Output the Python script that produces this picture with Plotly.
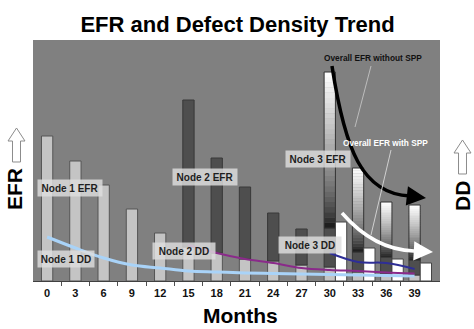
import plotly.graph_objects as go

# ---------------- data (arbitrary units) ----------------
months = [0, 3, 6, 9, 12, 15, 18, 21, 24, 27, 30, 33, 36, 39]
node1_efr = [145, 120, 96, 72, 48, 34, 28, 22, 20, 16, 14, 9, 7, 6]
node2_efr = [None, None, None, None, None, 147, 95, 72, 48, 36, 39, 20, 17, 15]
node3_efr = [None] * 10 + [156, 84, 55, 55]
overall_efr_spp = [None] * 10 + [59, 33, 22, 18]
node1_dd = [44, 33, 23, 16, 13, 10, 9, 8, 7.5, 7, 6.5, 6, 5.5, 5]
node2_dd = [None] * 5 + [36, 28, 22, 18, 13, 11, 10, 8.5, 7.5]
node3_dd = [None] * 10 + [28, 19, 18, 12]

FONT = "Liberation Sans, Arial, sans-serif"
W, H = 474, 329
L, R, T, B = 33, 440, 40, 281  # plot area box in pixels


def PX(px):
    return (px - L) / (R - L)


def PY(py):
    return (B - py) / (B - T)


x = list(range(len(months)))
BW = 0.4
fig = go.Figure()

# Node 1 EFR (light gray)
fig.add_bar(x=x, y=node1_efr, width=BW, offset=-BW / 2,
            marker=dict(color="#c4c4c4", line=dict(color="#555555", width=1)))
# Node 2 EFR (dark gray) stacked on node 1
fig.add_bar(x=x, y=node2_efr, base=node1_efr, width=BW, offset=-BW / 2,
            marker=dict(color="#4e4e4e", line=dict(color="#383838", width=1)))

# Node 3 EFR (vertical black->white gradient built from segments)
N = 30
sx, sy, sb, sc = [], [], [], []
for i in range(len(months)):
    if node3_efr[i] is None:
        continue
    b0 = node1_efr[i] + node2_efr[i]
    h = node3_efr[i] / N
    for k in range(N):
        sx.append(i)
        sb.append(b0 + k * h)
        sy.append(h * (1.06 if k < N - 1 else 1.0))
        frac = (k + 0.5) / N
        g = int(15 + 240 * frac ** 0.65)
        sc.append(f"rgb({g},{g},{g})")
fig.add_bar(x=sx, y=sy, base=sb, width=BW, offset=-BW / 2,
            marker=dict(color=sc, line=dict(width=0)))
# outline of node 3 bars
n3_base = [(a + b) if c is not None else None for a, b, c in
           zip(node1_efr, [v or 0 for v in node2_efr], node3_efr)]
fig.add_bar(x=x, y=node3_efr, base=n3_base, width=BW, offset=-BW / 2,
            marker=dict(color="rgba(0,0,0,0)", line=dict(color="#333333", width=1)))

# Overall EFR with SPP (white bars to the right)
fig.add_bar(x=x, y=overall_efr_spp, width=BW, offset=BW / 2,
            marker=dict(color="#ffffff", line=dict(color="#444444", width=1)))

# DD lines
fig.add_scatter(x=x, y=node1_dd, mode="lines",
                line=dict(color="#a9d3f8", width=3, shape="spline", smoothing=1))
fig.add_scatter(x=x, y=node2_dd, mode="lines",
                line=dict(color="#8a2a8a", width=2, shape="spline", smoothing=1))
fig.add_scatter(x=x, y=node3_dd, mode="lines",
                line=dict(color="#2e2e96", width=2, shape="spline", smoothing=1))

shapes = []
annotations = []


def ppath(points, close=False):
    s = "M " + " L ".join(f"{PX(a):.4f},{PY(b):.4f}" for a, b in points)
    return s + (" Z" if close else "")


def cpath(p0, c1, c2, p1):
    return (f"M {PX(p0[0]):.4f},{PY(p0[1]):.4f} C {PX(c1[0]):.4f},{PY(c1[1]):.4f} "
            f"{PX(c2[0]):.4f},{PY(c2[1]):.4f} {PX(p1[0]):.4f},{PY(p1[1]):.4f}")


def text_ann(txt, cx, cy, size, color="#000000", angle=0, **kw):
    d = dict(xref="paper", yref="paper", x=PX(cx), y=PY(cy), xanchor="center",
             yanchor="middle", text=txt, showarrow=False, textangle=angle,
             font=dict(family=FONT, size=size, color=color, weight="bold"))
    d.update(kw)
    return d


# curved trend arrows
shapes.append(dict(type="path", xref="paper", yref="paper",
                   path=cpath((332, 66), (345, 150), (362, 194), (410, 196)),
                   line=dict(color="black", width=3.5)))
annotations.append(dict(xref="paper", yref="paper", x=PX(426), y=PY(198), ax=-18, ay=-2,
                        text="", showarrow=True, arrowhead=2, arrowsize=1.1,
                        arrowwidth=3.5, arrowcolor="black", standoff=0))
shapes.append(dict(type="path", xref="paper", yref="paper",
                   path=cpath((342, 213), (362, 236), (385, 250), (414, 251)),
                   line=dict(color="white", width=3.5)))
annotations.append(dict(xref="paper", yref="paper", x=PX(433), y=PY(252), ax=-18, ay=-1,
                        text="", showarrow=True, arrowhead=2, arrowsize=1.1,
                        arrowwidth=3.5, arrowcolor="white", standoff=0))

# leader lines
shapes.append(dict(type="line", xref="paper", yref="paper", x0=PX(371), y0=PY(66),
                   x1=PX(355), y1=PY(127), line=dict(color="#bdbdbd", width=1)))
shapes.append(dict(type="line", xref="paper", yref="paper", x0=PX(391), y0=PY(150),
                   x1=PX(371), y1=PY(235), line=dict(color="#d0d0d0", width=1)))

# hollow arrows beside the axis titles
shapes.append(dict(type="path", xref="paper", yref="paper",
                   path=ppath([(16.5, 128), (25, 141), (20.5, 141), (20.5, 162),
                               (12.5, 162), (12.5, 141), (8, 141)], close=True),
                   line=dict(color="#8c8c8c", width=1), fillcolor="white"))
shapes.append(dict(type="path", xref="paper", yref="paper",
                   path=ppath([(462.5, 140), (471, 153), (466.5, 153), (466.5, 174),
                               (458.5, 174), (458.5, 153), (454, 153)], close=True),
                   line=dict(color="#8c8c8c", width=1), fillcolor="white"))

# label boxes
labels = [
    ("Node 1 EFR", 70, 188, 60),
    ("Node 2 EFR", 205, 177, 60),
    ("Node 1 DD", 66, 259, 52),
    ("Node 2 DD", 184, 251, 58),
    ("Node 3 EFR", 318, 159, 60),
    ("Node 3 DD", 310, 245, 58),
]
for txt, cx, cy, w in labels:
    annotations.append(text_ann(txt, cx, cy, 10, "#1e1e1e", width=w, height=12,
                                borderpad=2, bgcolor="rgba(222,222,222,0.82)"))

annotations.append(text_ann("Overall EFR without SPP", 373, 58, 8.3, "#111111"))
annotations.append(text_ann("Overall EFR with SPP", 385, 143, 8.3, "#ffffff"))

# axis titles
annotations.append(text_ann("Months", 240, 315, 21))
annotations.append(text_ann("EFR", 14, 189, 21, angle=-90))
annotations.append(text_ann("DD", 463, 196, 21, angle=-90))

fig.update_layout(
    width=W, height=H,
    margin=dict(l=L, r=W - R, t=T, b=H - B, pad=0),
    paper_bgcolor="white",
    plot_bgcolor="#808080",
    barmode="overlay",
    showlegend=False,
    title=dict(text="EFR and Defect Density Trend", x=PX(237.5), xref="paper",
               xanchor="center", y=1 - 24 / H, yref="container", yanchor="middle",
               font=dict(family=FONT, size=22, color="#000000", weight="bold")),
    xaxis=dict(range=[-0.5, 13.9], tickmode="array", tickvals=x,
               ticktext=[str(m) for m in months],
               ticks="outside", ticklen=2, tickcolor="rgba(0,0,0,0)",
               tickfont=dict(family=FONT, size=11, color="#111111", weight="bold"),
               showline=True, linecolor="#404040", linewidth=1,
               showgrid=False, zeroline=False,
               minor=dict(tickmode="array", tickvals=[i + 0.5 for i in range(13)],
                          ticks="outside", ticklen=4, tickcolor="#505050", tickwidth=1,
                          showgrid=False)),
    yaxis=dict(range=[0, B - T], showticklabels=False, showgrid=False,
               zeroline=False, showline=False, ticks=""),
    shapes=shapes,
    annotations=annotations,
)

fig.write_html("out.html")
